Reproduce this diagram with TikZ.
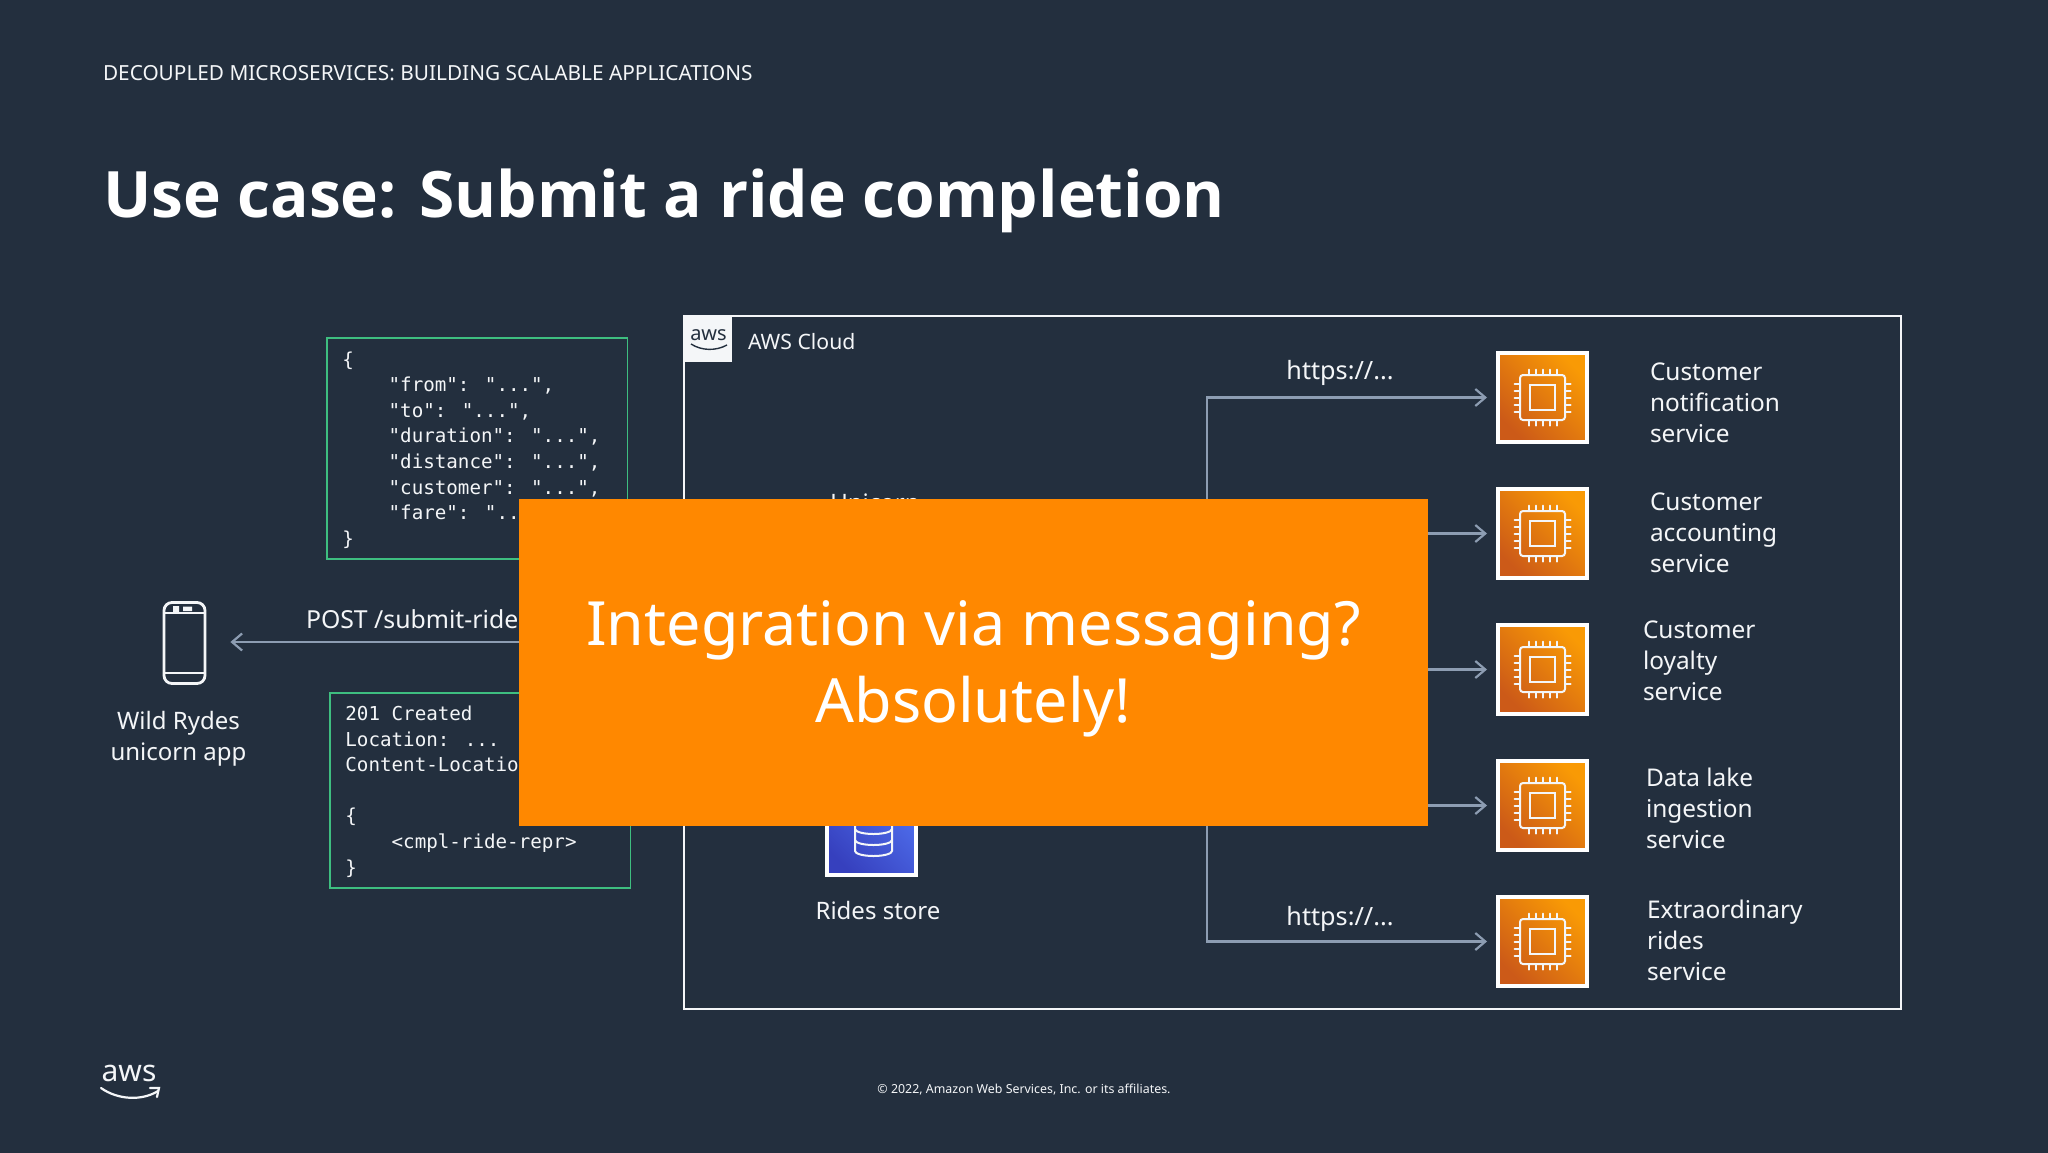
\documentclass[tikz,border=0pt]{standalone}
\usepackage{fontspec}
\setmainfont{Noto Sans}
\newfontfamily\codefont{DejaVu Sans Mono}
\newfontfamily\titlefont{Open Sans}
\usepackage{tikz}
\usetikzlibrary{arrows.meta,shadings}
\definecolor{slide}{HTML}{232F3E}
\definecolor{banner}{HTML}{FF8800}
\definecolor{wire}{HTML}{8D9DB2}
\definecolor{codeline}{HTML}{3EBE80}
\definecolor{chiplo}{HTML}{CC5A18}
\definecolor{chiphi}{HTML}{F99A05}
\definecolor{storelo}{HTML}{3640BE}
\definecolor{storehi}{HTML}{5070EE}
\definecolor{paper}{HTML}{F4F6F8}
\tikzstyle{txt} = [text=paper, inner sep=0pt, outer sep=0pt, font=\fontsize{12}{15.5}\selectfont]
\tikzstyle{sidetext} = [txt, anchor=west, align=left, font=\fontsize{12.2}{15.5}\selectfont]
\tikzstyle{centertext} = [txt, align=center]
\tikzstyle{urltext} = [txt, anchor=base, font=\fontsize{12.6}{15.5}\selectfont]
\tikzstyle{code} = [text=paper, inner sep=0pt, anchor=north west, align=left, font=\codefont\fontsize{9.6}{12.8}\selectfont]
\tikzstyle{codebox} = [rectangle, draw=codeline, line width=0.9pt, anchor=north west]
\tikzstyle{chipicon} = [rectangle, draw=white, line width=2pt, minimum size=44.5pt, left color=chiplo, right color=chiphi, shading angle=135]
\tikzstyle{storeicon} = [rectangle, draw=white, line width=2pt, minimum size=44.5pt, left color=storelo, right color=storehi, shading angle=135]
\tikzstyle{link} = [draw=wire, line width=1.1pt, -{Straight Barb[length=5pt,width=8.5pt,line width=1.1pt]}]
\tikzstyle{glyph} = [draw=paper, line width=1pt, line cap=round]
% cpu drawing put over an icon node
\newcommand{\chipglyph}[1]{
  \begin{scope}[shift={(#1.center)}]
    \draw [glyph, rounded corners=1.5pt] (-22.5,-22.5) rectangle (22.5,22.5);
    \draw [glyph] (-12.5,-12.5) rectangle (12.5,12.5);
    \foreach \p in {-14,-7,0,7,14} {
      \draw [glyph] (\p,-22.5) -- (\p,-28);
      \draw [glyph] (\p,22.5) -- (\p,28);
      \draw [glyph] (-22.5,\p) -- (-28,\p);
      \draw [glyph] (22.5,\p) -- (28,\p);
    }
  \end{scope}
}
\begin{document}
\begin{tikzpicture}[x=0.5pt,y=-0.5pt]
    \useasboundingbox (0,0) rectangle (2048,1152);
    \fill [slide] (-8,-8) rectangle (2056,1160);

    % heading
    \node [txt, anchor=base west, font=\fontsize{10.4}{13}\selectfont] (kicker) at (103,80) {DECOUPLED MICROSERVICES: BUILDING SCALABLE APPLICATIONS};
    \node [txt, anchor=base west, text=white, font=\titlefont\bfseries\fontsize{32}{38}\selectfont] (title) at (103,217) {Use case: Submit a ride completion};

    % client side
    \node [rectangle, draw=paper, line width=1.4pt, rounded corners=4pt, minimum width=20.5pt, minimum height=40.5pt] (app) at (184.5,643) {};
    \draw [paper, line width=1pt] (163,613) -- (206,613) (163,673) -- (206,673);
    \fill [paper] (173,606) rectangle (179,612) (183,606.5) rectangle (192,611);
    \node [centertext] (appname) at (178.5,739) {Wild Rydes\\unicorn app};
    \node [txt, anchor=base west, font=\fontsize{12.4}{15.5}\selectfont] (post) at (306,628) {POST /submit-ride};

    \node [codebox, minimum width=150.3pt, minimum height=110.5pt] (reqbox) at (326,337) {};
    \node [code] (req) at (342,351) {\{\\
\ \ \ \ "from": "...",\\
\ \ \ \ "to": "...",\\
\ \ \ \ "duration": "...",\\
\ \ \ \ "distance": "...",\\
\ \ \ \ "customer": "...",\\
\ \ \ \ "fare": "..\\
\}};
    \node [codebox, minimum width=150.3pt, minimum height=97.5pt] (respbox) at (329,692) {};
    \node [code] (resp) at (345,705.5) {201 Created\\
Location: ...\\
Content-Locatio\\
~\\
\{\\
\ \ \ \ <cmpl-ride-repr>\\
\}};

    % cloud frame
    \node [rectangle, draw=paper, line width=1pt, minimum width=608.5pt, minimum height=346.5pt] (cloud) at (1292.5,662) {};
    \node [rectangle, fill=paper, anchor=north west, minimum width=23.5pt, minimum height=22.5pt, inner sep=0pt] (tile) at (685,317) {};
    \node [anchor=base, inner sep=0pt, text=slide, font=\fontsize{10}{12}\selectfont] (tileaws) at (708.5,340) {aws};
    \draw [slide, line width=0.7pt] (691,344) .. controls (702,351) and (716,351) .. (727,345);
    \node [txt, anchor=base west, font=\fontsize{10.6}{13}\selectfont] (cloudname) at (748,349) {AWS Cloud};

    \node [txt, anchor=base] (unicorn) at (875,511) {Unicorn};
    \node [storeicon] (store) at (871.5,830.5) {};
    \draw [glyph] (855,810) -- (855,851) arc (180:0:18.5 and 5) -- (892,810);
    \draw [glyph] (855,840) arc (180:0:18.5 and 5);
    \draw [glyph] (855,829) arc (180:0:18.5 and 5);
    \node [txt, anchor=base] (storename) at (878,919) {Rides store};

    % subscribers
    \node [chipicon] (notify) at (1542.5,397.5) {};
    \node [chipicon] (account) at (1542.5,533.5) {};
    \node [chipicon] (loyalty) at (1542.5,669.5) {};
    \node [chipicon] (lake) at (1542.5,805.5) {};
    \node [chipicon] (extra) at (1542.5,941.5) {};
    \chipglyph{notify}
    \chipglyph{account}
    \chipglyph{loyalty}
    \chipglyph{lake}
    \chipglyph{extra}

    \node [sidetext] (notifyname) at (1650,403) {Customer\\notification\\service};
    \node [sidetext] (accountname) at (1650,533) {Customer\\accounting\\service};
    \node [sidetext] (loyaltyname) at (1643,661) {Customer\\loyalty\\service};
    \node [sidetext] (lakename) at (1646,808) {Data lake\\ingestion\\service};
    \node [sidetext] (extraname) at (1647,940) {Extraordinary\\rides\\service};

    \node [urltext] (urla) at (1340,379) {https://...};
    \node [urltext] (urlb) at (1340,925) {https://...};

    % banner goes over the middle of the slide
    \coordinate (postend) at (519,642);
    \coordinate (hubtop) at (1207,499);
    \coordinate (hubbottom) at (1207,826);
    \coordinate (tapb) at (1428,533.5);
    \coordinate (tapc) at (1428,669.5);
    \coordinate (tapd) at (1428,805.5);
    \draw [link, shorten >=12pt] (postend) -- (app.east |- postend);
    \draw [link, shorten >=4.5pt] (hubtop) |- (notify.west);
    \draw [link, shorten >=4.5pt] (hubbottom) |- (extra.west);
    \draw [link, shorten >=4.5pt] (tapb) -- (account.west);
    \draw [link, shorten >=4.5pt] (tapc) -- (loyalty.west);
    \draw [link, shorten >=4.5pt] (tapd) -- (lake.west);
    \node [rectangle, fill=banner, minimum width=454.5pt, minimum height=163.5pt, inner sep=0pt] (msg) at (973.5,662.5) {};
    \node [align=center, inner sep=0pt, text=white, font=\fontsize{30.5}{38.5}\selectfont] (msgtext) at (973.5,669) {Integration via messaging?\\Absolutely!};

    % footer
    \node [txt, anchor=base, font=\fontsize{6.2}{8}\selectfont] (copy) at (1024,1093) {© 2022, Amazon Web Services, Inc. or its affiliates.};
    \node [txt, anchor=base, font=\fontsize{15}{18}\selectfont] (logo) at (129,1081) {aws};
    \draw [paper, line width=1.1pt, line cap=round] (101,1088) .. controls (118,1100) and (142,1101) .. (158,1091);
    \draw [paper, line width=1.1pt, line cap=round] (150,1088) -- (159,1088) -- (157,1097);
\end{tikzpicture}
\end{document}
